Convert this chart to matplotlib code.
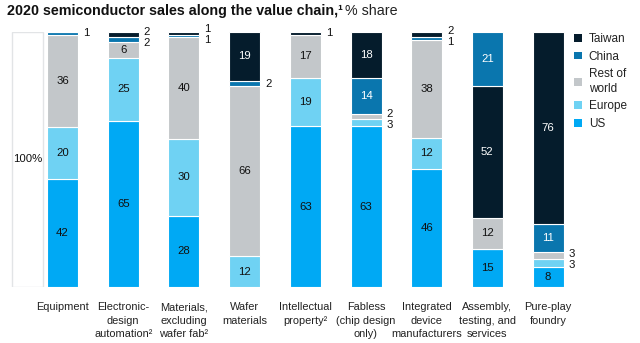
import numpy as np
import matplotlib
matplotlib.use("Agg")
import matplotlib.pyplot as plt
from matplotlib.patches import Patch

plt.rcParams["font.family"] = ["Liberation Sans", "DejaVu Sans"]

# categories along the value chain
categories = [
    "Equipment",
    "Electronic-\ndesign\nautomation²",
    "Materials,\nexcluding\nwafer fab²",
    "Wafer\nmaterials",
    "Intellectual\nproperty²",
    "Fabless\n(chip design\nonly)",
    "Integrated\ndevice\nmanufacturers",
    "Assembly,\ntesting, and\nservices",
    "Pure-play\nfoundry",
]

# % share by region
shares_by_region = {
    "US": [42, 65, 28, 0, 63, 63, 46, 15, 8],
    "Europe": [20, 25, 30, 12, 19, 3, 12, 0, 3],
    "Rest of\nworld": [36, 6, 40, 66, 17, 2, 38, 12, 3],
    "China": [1, 2, 1, 2, 0, 14, 1, 21, 11],
    "Taiwan": [0, 2, 1, 19, 1, 18, 2, 52, 76],
}

colors = {
    "US": "#00a9f4",
    "Europe": "#6fd2f3",
    "Rest of\nworld": "#c3c7ca",
    "China": "#0a76ae",
    "Taiwan": "#051c2c",
}
text_colors = {"China": "white", "Taiwan": "white"}

# stacking order bottom -> top (assembly stacks China above Taiwan)
default_order = ["US", "Europe", "Rest of\nworld", "China", "Taiwan"]
stack_order = [default_order] * len(categories)
stack_order[7] = ["US", "Europe", "Rest of\nworld", "Taiwan", "China"]


def spread(pos, gap):
    # push outside labels apart so they don't overlap
    pos = list(pos)
    for _ in range(100):
        moved = False
        order = np.argsort(pos)
        for a, b in zip(order[:-1], order[1:]):
            d = pos[b] - pos[a]
            if d < gap:
                shift = (gap - d) / 2
                pos[a] -= shift
                pos[b] += shift
                moved = True
        if not moved:
            break
    return pos


fig = plt.figure(figsize=(6.4, 3.43), dpi=100)
ax = fig.add_axes([0, 1 - 287 / 343, 1, 255 / 343])

step = 60.7
x0 = 62.5
ax.set_xlim((0 - x0) / step, (640 - x0) / step)
ax.set_ylim(0, 100)

x = np.arange(len(categories))
width = 31 / step
fs = 8.2

# 100% reference box
box_x = (27.5 - x0) / step
ax.bar([box_x], [100], width=width, bottom=0, color="white",
       edgecolor="#e2e4e6", linewidth=1.0)
ax.text(box_x, 50, "100%", ha="center", va="center", fontsize=fs, color="#111111")

for i, cat in enumerate(categories):
    vals = [shares_by_region[r][i] for r in stack_order[i]]
    total = sum(vals)
    bottom = 0.0
    outside = []
    for r, v in zip(stack_order[i], vals):
        h = v / total * 100
        ax.bar(x[i], h, width=width, bottom=bottom, color=colors[r],
               edgecolor="white", linewidth=0.8)
        if v > 3:
            ax.text(x[i], bottom + h / 2, str(v), ha="center", va="center",
                    fontsize=fs, color=text_colors.get(r, "#111111"))
        elif v > 0:
            outside.append((bottom + h / 2, v))
        bottom += h
    if outside:
        ys = spread([o[0] for o in outside], 4.3)
        for (yc, v), y in zip(outside, ys):
            ax.text(x[i] + width / 2 + 0.08, y, str(v), ha="left", va="center",
                    fontsize=fs, color="#111111")

ax.set_xticks(x)
ax.set_xticklabels(categories, fontsize=7.9, color="#222222", linespacing=1.45,
                   va="top")
ax.tick_params(axis="x", length=0, pad=11)
ax.set_yticks([])
for sp in ax.spines.values():
    sp.set_visible(False)

handles = [Patch(facecolor=colors[r], edgecolor="none", label=r)
           for r in default_order[::-1]]
leg = fig.legend(handles=handles, loc="upper left",
                 bbox_to_anchor=(574 / 640, 1 - 33 / 343), frameon=False,
                 fontsize=fs + 0.3, handlelength=0.65, handleheight=0.65,
                 handletextpad=0.6, labelspacing=0.48, borderpad=0,
                 borderaxespad=0)
for t in leg.get_texts():
    t.set_color("#222222")
    t.set_linespacing(1.25)

title = fig.text(7 / 640, 1 - 11 / 343, "2020 semiconductor sales along the value chain,¹",
                 ha="left", va="center", fontsize=10.3, fontweight="bold",
                 color="#111111")
fig.canvas.draw()
bb = title.get_window_extent()
fig.text((bb.x1 + 2) / 640, 1 - 11 / 343, "% share", ha="left", va="center",
         fontsize=10.3, color="#222222")

fig.savefig("out.png", dpi=100)
